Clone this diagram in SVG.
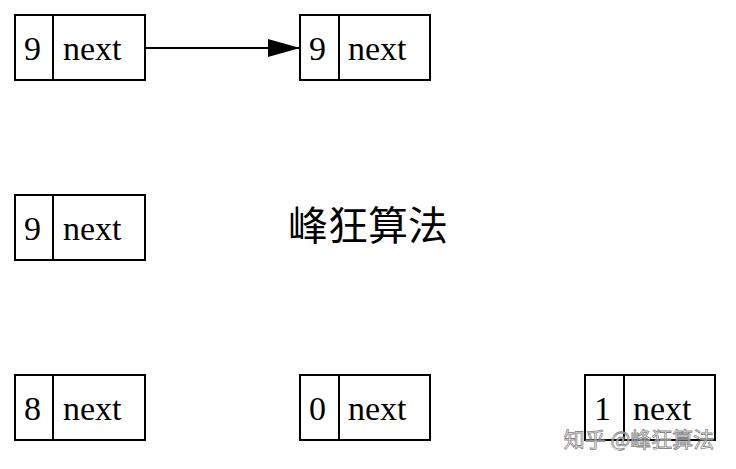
<svg xmlns="http://www.w3.org/2000/svg" width="736" height="469" viewBox="0 0 736 469">
<style>
.b{fill:#fff;stroke:#000;stroke-width:2}
</style>
<defs><marker id="a" markerWidth="32" markerHeight="18" refX="32" refY="9" orient="auto" markerUnits="userSpaceOnUse" viewBox="0 0 32 18"><path d="M0,0L32,9L0,18z" fill="#000"/></marker></defs>
<rect width="736" height="469" fill="#fff"/>
<g font-family="'Liberation Serif','Times New Roman','DejaVu Serif',serif" font-size="34" fill="#000">
<g id="n1"><rect class="b" x="15" y="15" width="130" height="65"/><line class="b" x1="53" y1="15" x2="53" y2="80"/><text x="24" y="60">9</text><text x="63" y="60">next</text></g>
<g id="n2"><rect class="b" x="300" y="15" width="130" height="65"/><line class="b" x1="339" y1="15" x2="339" y2="80"/><text x="309" y="60">9</text><text x="348" y="60">next</text></g>
<g id="n3"><rect class="b" x="15" y="195" width="130" height="65"/><line class="b" x1="53" y1="195" x2="53" y2="260"/><text x="24" y="240">9</text><text x="63" y="240">next</text></g>
<g id="n4"><rect class="b" x="15" y="375" width="130" height="65"/><line class="b" x1="53" y1="375" x2="53" y2="440"/><text x="24" y="420">8</text><text x="63" y="420">next</text></g>
<g id="n5"><rect class="b" x="300" y="375" width="130" height="65"/><line class="b" x1="339" y1="375" x2="339" y2="440"/><text x="309" y="420">0</text><text x="348" y="420">next</text></g>
<g id="n6"><rect class="b" x="585" y="375" width="130" height="65"/><line class="b" x1="624" y1="375" x2="624" y2="440"/><text x="594" y="420">1</text><text x="633" y="420">next</text></g>
</g>
<g id="connectors"><line x1="145" y1="48" x2="300" y2="48" stroke="#000" stroke-width="2" marker-end="url(#a)"/></g>
<text x="368" y="240" text-anchor="middle" font-family="'Noto Sans CJK SC',sans-serif" font-size="40">峰狂算法</text>
<text x="639" y="447" text-anchor="middle" font-family="'Noto Sans CJK SC',sans-serif" font-size="21" fill="#fff" fill-opacity="0.6" stroke="#888" stroke-width="0.8">知乎 @峰狂算法</text>
</svg>
